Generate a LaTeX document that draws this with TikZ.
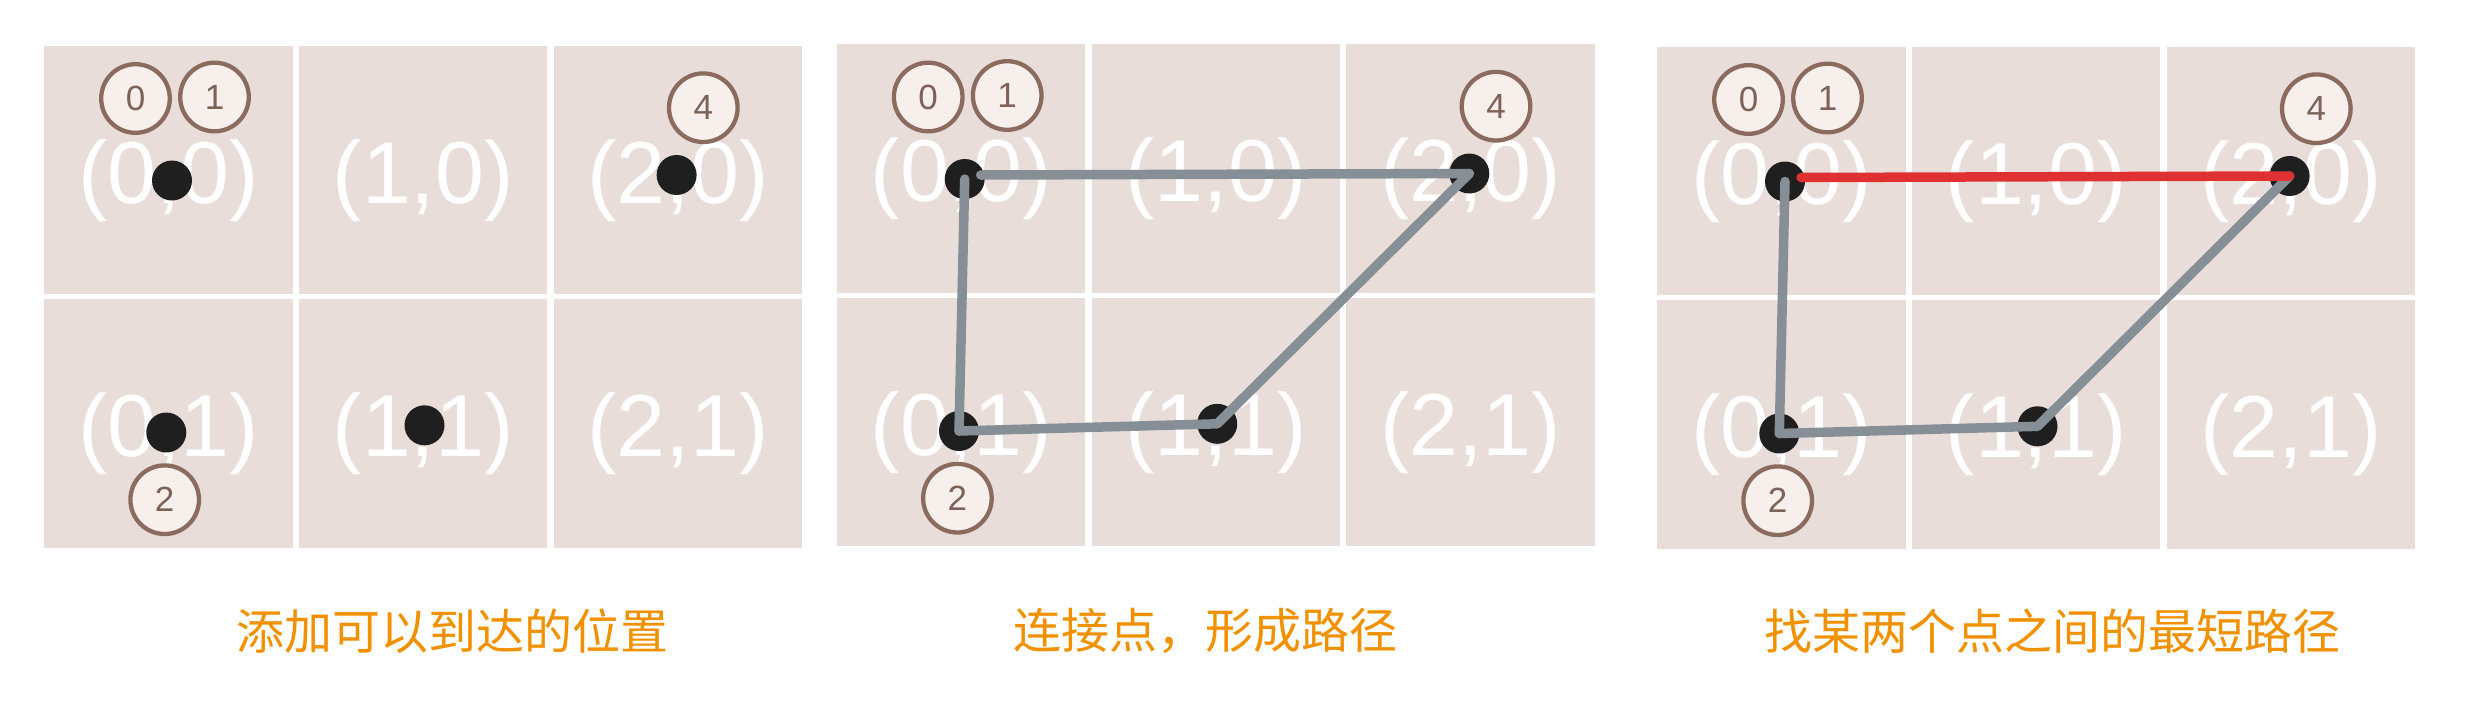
\documentclass[tikz,border=0pt]{standalone}
\usepackage{fontspec}
\setmainfont{Liberation Sans}
\newfontfamily\cjk{Noto Sans CJK SC}
\definecolor{cellcol}{RGB}{232,221,216}
\definecolor{tagfill}{RGB}{247,239,236}
\definecolor{tagline}{RGB}{139,107,94}
\definecolor{tagtext}{RGB}{125,98,88}
\definecolor{dotcol}{RGB}{31,31,31}
\definecolor{edgecol}{RGB}{135,143,150}
\definecolor{redcol}{RGB}{223,49,49}
\definecolor{capcol}{RGB}{242,145,0}
\tikzset{
  cell/.style={rectangle, fill=cellcol, minimum width=248.5pt, minimum height=248.5pt,
    inner sep=0pt, text=white, font=\fontsize{88}{88}\selectfont,
    text height=66pt, text depth=0pt},
  dot/.style={circle, fill=dotcol, minimum size=40pt, inner sep=0pt},
  tag/.style={circle, draw=tagline, line width=4.3pt, fill=tagfill, minimum size=68.6pt,
    inner sep=0pt, text=tagtext, font=\fontsize{35}{35}\selectfont},
  edge/.style={draw=edgecol, line width=9.5pt, line cap=round, line join=round},
  hot/.style={draw=redcol, line width=9.5pt, line cap=round},
  caption/.style={text=capcol, font=\cjk\fontsize{48}{48}\selectfont, inner sep=0pt}
}
\newcommand\gridpanel[3]{%
\begin{scope}[shift={(#2,#3)}]
\node[cell] (g00#1) at (168.5,170.2) {(0,0)};
\node[cell] (g10#1) at (423.2,170.2) {(1,0)};
\node[cell] (g20#1) at (677.9,170.2) {(2,0)};
\node[cell] (g01#1) at (168.5,423.7) {(0,1)};
\node[cell] (g11#1) at (423.2,423.7) {(1,1)};
\node[cell] (g21#1) at (677.9,423.7) {(2,1)};
\node[dot] (a#1) at (172,180.5) {};
\node[dot] (b#1) at (676.6,175) {};
\node[dot] (c#1) at (166.3,432.5) {};
\node[dot] (d#1) at (424.5,425.3) {};
\node[tag] (t0#1) at (135.5,98.5) {0};
\node[tag] (t1#1) at (214.5,97) {1};
\node[tag] (t4#1) at (703.3,107.7) {4};
\node[tag] (t2#1) at (164.7,499.7) {2};
\end{scope}}
\begin{document}
\begin{tikzpicture}[x=1pt,y=-1pt]
\fill[white] (0,0) rectangle (2488,721);
\useasboundingbox (0,0) rectangle (2488,721);
\gridpanel{p}{0}{0}
\gridpanel{q}{792.7}{-1.5}
\gridpanel{r}{1613}{1}
% panel 2 edges
\draw[edge] ([xshift=16pt,yshift=4pt]aq.center) -- (bq.center);
\draw[edge] (aq.center) -- (cq.center);
\draw[edge] (cq.center) -- (dq.center) -- (bq.center);
% panel 3 edges
\draw[edge] (ar.center) -- (cr.center);
\draw[edge] (cr.center) -- (dr.center) -- (br.center);
\draw[hot] ([xshift=16pt,yshift=4pt]ar.center) -- (br.center);
% captions
\node[caption] (cap1) at (452,631) {添加可以到达的位置};
\node[caption] (cap2) at (1205.7,631) {连接点，形成路径};
\node[caption] (cap3) at (2052,631) {找某两个点之间的最短路径};
\end{tikzpicture}
\end{document}
